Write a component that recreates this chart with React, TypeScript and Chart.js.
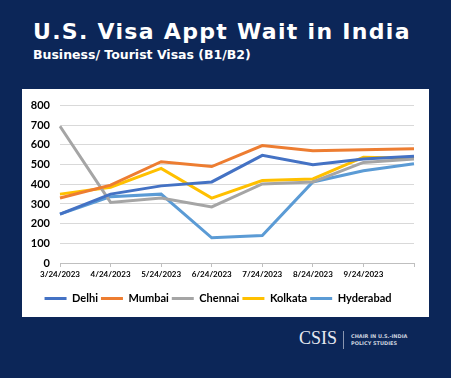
import React, { useEffect, useRef } from "react";
import { Chart, registerables } from "chart.js";

Chart.register(...registerables);

const categories = ["3/24/2023", "4/24/2023", "5/24/2023", "6/24/2023", "7/24/2023", "8/24/2023", "9/24/2023", "10/24/2023"];
const delhi = [248, 350, 392, 412, 547, 500, 528, 542];
const mumbai = [330, 396, 515, 490, 597, 570, 575, 581];
const chennai = [695, 308, 330, 285, 402, 412, 511, 528];
const kolkata = [350, 385, 481, 330, 419, 427, 538, 533];
const hyderabad = [248, 337, 350, 128, 140, 412, 469, 505];
const yTicks = [0, 100, 200, 300, 400, 500, 600, 700, 800];

const NAVY = "#0c2658";

export default function App() {
  const ref = useRef<HTMLCanvasElement>(null);
  useEffect(() => {
    if (!ref.current) return;
    const mk = (label: string, data: number[], color: string) => ({
      label,
      data,
      borderColor: color,
      backgroundColor: color,
      borderWidth: 3,
      pointRadius: 0,
      tension: 0,
    });
    const chart = new Chart(ref.current, {
      type: "line",
      data: {
        labels: categories,
        datasets: [
          mk("Delhi", delhi, "#4472C4"),
          mk("Mumbai", mumbai, "#ED7D31"),
          mk("Chennai", chennai, "#A5A5A5"),
          mk("Kolkata", kolkata, "#FFC000"),
          mk("Hyderabad", hyderabad, "#5B9BD5"),
        ],
      },
      options: {
        animation: false,
        responsive: false,
        maintainAspectRatio: false,
        layout: { padding: { left: 0, right: 15, top: 15, bottom: 3 } },
        plugins: {
          legend: {
            position: "bottom",
            labels: {
              usePointStyle: true,
              pointStyle: "line",
              pointStyleWidth: 22,
              padding: 3,
              color: "#000",
              font: { family: "Lato", size: 11, weight: "bold" },
            },
          },
          tooltip: { enabled: false },
        },
        scales: {
          x: {
            type: "category",
            offset: false,
            afterFit: (s: any) => {
              s.height = 27;
            },
            grid: {
              display: true,
              drawOnChartArea: false,
              drawTicks: true,
              tickLength: 4,
              color: "#BFBFBF",
            },
            border: { display: true, color: "#BFBFBF", width: 1 },
            ticks: {
              autoSkip: false,
              maxRotation: 0,
              minRotation: 0,
              padding: 3,
              color: "#000",
              font: { family: "Lato", size: 8, weight: "bold" },
              callback: (_v: any, i: number) => (i === categories.length - 1 ? "" : categories[i]),
            },
          },
          y: {
            min: yTicks[0],
            max: yTicks[yTicks.length - 1],
            afterFit: (s: any) => {
              s.width = 38;
            },
            afterBuildTicks: (s: any) => {
              s.ticks = yTicks.map((v) => ({ value: v }));
            },
            grid: { color: "#D9D9D9", drawTicks: false, lineWidth: 1 },
            border: { display: false },
            ticks: {
              padding: 10,
              color: "#000",
              font: { family: "Lato", size: 11, weight: "bold" },
            },
          },
        },
      },
    });
    return () => chart.destroy();
  }, []);

  return (
    <div
      style={{
        position: "fixed",
        left: 0,
        top: 0,
        width: 451,
        height: 378,
        background: NAVY,
        overflow: "hidden",
      }}
    >
      <div
        style={{
          position: "absolute",
          left: 33,
          top: 21,
          color: "#fff",
          fontFamily: "DejaVu Sans",
          fontWeight: "bold",
          fontSize: 22,
          letterSpacing: "1.3px",
          lineHeight: "22px",
          whiteSpace: "nowrap",
        }}
      >
        U.S. Visa Appt Wait in India
      </div>
      <div
        style={{
          position: "absolute",
          left: 33,
          top: 48,
          color: "#fff",
          fontFamily: "DejaVu Sans",
          fontWeight: "bold",
          fontSize: 12.5,
          lineHeight: "13px",
          whiteSpace: "nowrap",
        }}
      >
        Business/ Tourist Visas (B1/B2)
      </div>
      <div
        style={{
          position: "absolute",
          left: 22,
          top: 89,
          width: 407,
          height: 228,
          background: "#fff",
        }}
      >
        <canvas ref={ref} width={407} height={228} style={{ display: "block" }} />
      </div>
      <div
        style={{
          position: "absolute",
          left: 299,
          top: 328,
          color: "#e6e9f0",
          fontFamily: "Liberation Serif",
          fontSize: 18,
          lineHeight: "20px",
          whiteSpace: "nowrap",
        }}
      >
        CSIS
      </div>
      <div
        style={{
          position: "absolute",
          left: 343,
          top: 331,
          width: 1,
          height: 18,
          background: "#8a96b0",
        }}
      />
      <div
        style={{
          position: "absolute",
          left: 351,
          top: 333,
          color: "#c9d0de",
          fontFamily: "DejaVu Sans",
          fontWeight: "bold",
          fontSize: 5,
          lineHeight: "7px",
          whiteSpace: "nowrap",
        }}
      >
        CHAIR IN U.S.-INDIA
        <br />
        POLICY STUDIES
      </div>
    </div>
  );
}
